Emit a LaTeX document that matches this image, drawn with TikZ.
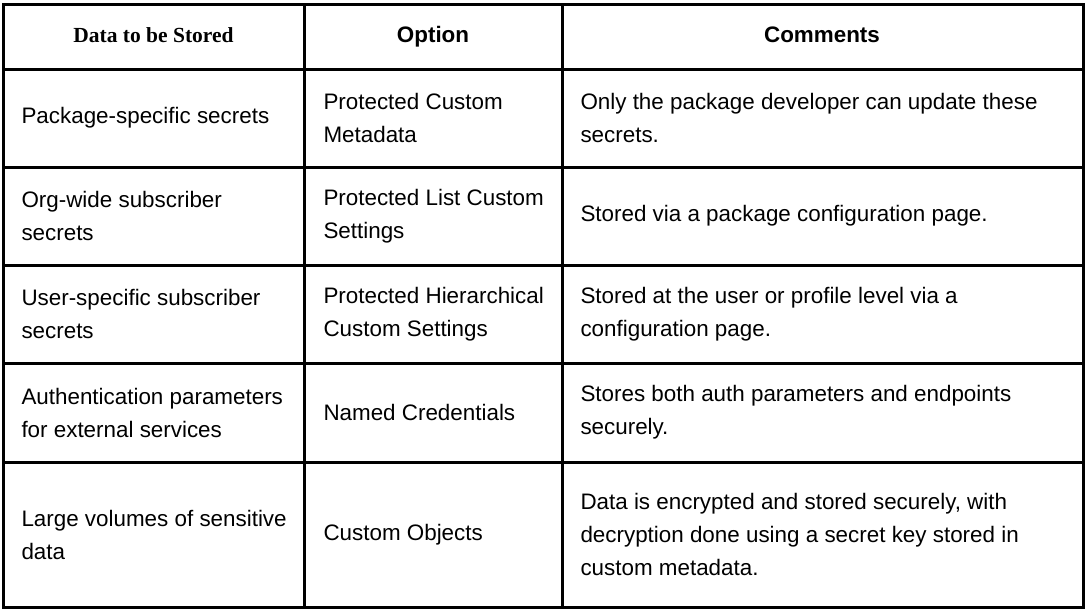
\documentclass[tikz,border=0pt]{standalone}
\usepackage{fontspec}
\setmainfont{Liberation Sans}
\newfontfamily\hdserif{Liberation Serif}
\begin{document}
\begin{tikzpicture}[x=1pt,y=-1pt,line width=3pt,
 cell/.style={anchor=west,align=left,inner sep=0pt,font=\fontsize{22.4}{33}\selectfont},
 head/.style={anchor=center,align=center,inner sep=0pt,text height=16pt,text depth=5pt,font=\fontsize{22.4}{33}\selectfont\bfseries}]
\useasboundingbox (0,0) rectangle (1086,613);
\draw (3,4) rectangle (1083,607);
\foreach \x in {304,562} \draw (\x,4) -- (\x,607);
\foreach \y in {69,167,265,363,462} \draw (3,\y) -- (1083,\y);
\node[head,font=\fontsize{21.5}{33}\selectfont\hdserif\bfseries] (h1) at (153.5,37) {Data to be Stored};
\node[head] (h2) at (433,37) {Option};
\node[head] (h3) at (822,37) {Comments};
\node[cell] (a1) at (20,118) {Package-specific secrets};
\node[cell] (b1) at (322,118) {Protected Custom\\Metadata};
\node[cell] (c1) at (579,118) {Only the package developer can update these\\secrets.};
\node[cell] (a2) at (20,216) {Org-wide subscriber\\secrets};
\node[cell] (b2) at (322,216) {Protected List Custom\\Settings};
\node[cell] (c2) at (579,216) {Stored via a package configuration page.};
\node[cell] (a3) at (20,314) {User-specific subscriber\\secrets};
\node[cell] (b3) at (322,314) {Protected Hierarchical\\Custom Settings};
\node[cell] (c3) at (579,314) {Stored at the user or profile level via a\\configuration page.};
\node[cell] (a4) at (20,412.5) {Authentication parameters\\for external services};
\node[cell] (b4) at (322,412.5) {Named Credentials};
\node[cell] (c4) at (579,412.5) {Stores both auth parameters and endpoints\\securely.};
\node[cell] (a5) at (20,534.5) {Large volumes of sensitive\\data};
\node[cell] (b5) at (322,534.5) {Custom Objects};
\node[cell] (c5) at (579,534.5) {Data is encrypted and stored securely, with\\decryption done using a secret key stored in\\custom metadata.};
\end{tikzpicture}
\end{document}
